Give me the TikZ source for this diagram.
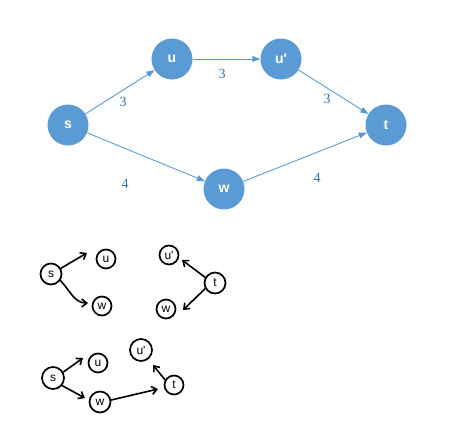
\documentclass[tikz,border=0pt]{standalone}
\usepackage{fontspec}
\setmainfont{Liberation Serif}
\setsansfont{Liberation Sans}
\usetikzlibrary{arrows.meta}
\definecolor{nodeblue}{HTML}{5B9BD5}
\definecolor{labelblue}{HTML}{2E75B6}
\tikzset{
  gnode/.style={circle, fill=nodeblue, draw=none, minimum size=41pt, inner sep=0pt,
    text=white, font=\sffamily\bfseries\fontsize{14}{14}\selectfont},
  gedge/.style={draw=nodeblue, line width=0.9pt, -{Triangle[length=8pt,width=6pt]}},
  wlabel/.style={text=labelblue, font=\fontsize{14}{14}\selectfont},
  hnode/.style={circle, draw=black, line width=1.7pt, minimum size=19pt, inner sep=0pt,
    font=\sffamily\fontsize{12}{12}\selectfont},
  hedge/.style={draw=black, line width=1.6pt, line cap=round, -{Straight Barb[length=5pt,width=8pt,line width=1.6pt]}}
}
\begin{document}
\begin{tikzpicture}[x=1pt,y=-1pt]
\useasboundingbox (0,0) rectangle (474,442);
% top graph
\node[gnode] (s) at (68,125) {s};
\node[gnode] (u) at (172,59) {u};
\node[gnode] (up) at (281,59) {u\textquotesingle};
\node[gnode] (t) at (386,125) {t};
\node[gnode] (w) at (224,189) {w};
\draw[gedge] (s) -- (u);
\draw[gedge] (u) -- (up);
\draw[gedge] (up) -- (t);
\draw[gedge] (s) -- (w);
\draw[gedge] (w) -- (t);
\node[wlabel] (l1) at (123,102) {3};
\node[wlabel] (l2) at (222,74) {3};
\node[wlabel] (l3) at (327,99) {3};
\node[wlabel] (l4) at (125,184) {4};
\node[wlabel] (l5) at (317,178) {4};
% hand-drawn group 1
\node[hnode, minimum size=21pt] (s1) at (51,274) {s};
\node[hnode] (u1) at (106,259) {u};
\node[hnode] (w1) at (102,306) {w};
\coordinate (a1) at (87,253);
\coordinate (a2) at (88,303);
\draw[hedge] (s1.30) -- (a1);
\draw[hedge] (s1.-35) to[out=-45,in=180] (a2);
% hand-drawn group 2
\node[hnode] (up2) at (169,255) {u\textquotesingle};
\node[hnode, minimum size=21pt] (t2) at (215,283) {t};
\node[hnode] (w2) at (166,309) {w};
\coordinate (a3) at (182,260);
\coordinate (a4) at (183,310);
\draw[hedge] (t2.150) -- (a3);
\draw[hedge] (t2.-150) -- (a4);
% hand-drawn group 3
\node[hnode, minimum size=22pt] (up3) at (141,350) {u\textquotesingle};
\node[hnode, minimum size=22pt] (s3) at (53,378) {s};
\node[hnode] (u3) at (98,363) {u};
\node[hnode, minimum size=21pt] (w3) at (100,402) {w};
\node[hnode] (t3) at (174,385) {t};
\coordinate (a5) at (83,358);
\coordinate (a6) at (85,398);
\coordinate (a7) at (158,389);
\coordinate (a8) at (153,365);
\draw[hedge] (s3.30) -- (a5);
\draw[hedge] (s3.-40) -- (a6);
\draw[hedge] (w3.10) -- (a7);
\draw[hedge] (t3.150) -- (a8);
\end{tikzpicture}
\end{document}
